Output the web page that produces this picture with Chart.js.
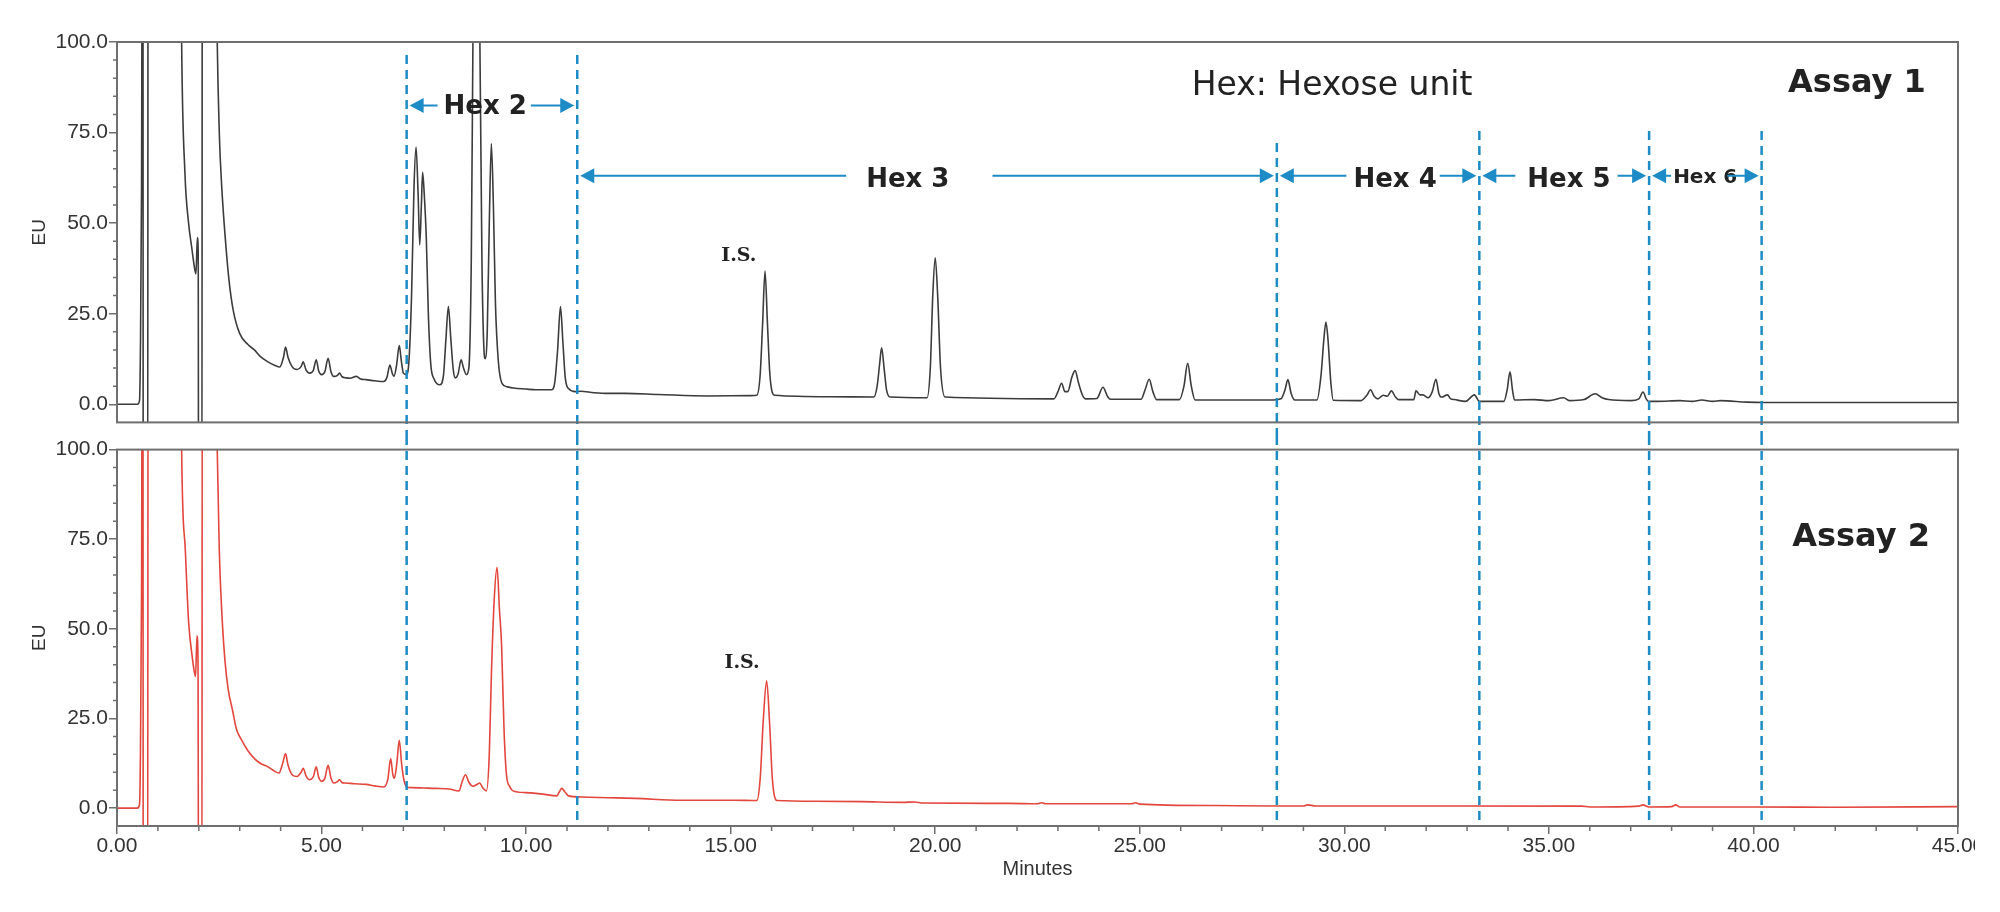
<!DOCTYPE html>
<html>
<head>
<meta charset="utf-8">
<script src="https://cdn.jsdelivr.net/npm/chart.js@4.4.1/dist/chart.umd.min.js"></script>
<style>
    html, body { margin: 0; padding: 0; background: #fff; }
    #wrap { position: relative; width: 1975px; height: 912px; overflow: hidden; background: #fff; }
    #assay1 { position: absolute; left: 0; top: 0; }
    #assay2 { position: absolute; left: 0; top: 436px; }
</style>
</head>
<body>
<div id="wrap">
    <canvas id="assay1" width="2000" height="436"></canvas>
    <canvas id="assay2" width="2000" height="476"></canvas>
</div>
<script>
// ================================
// DATA (minutes, EU)
// ================================
const assay1Trace = [
    [0, 0], [0.5, 0], [0.55, 1], [0.57, 12.6], [0.6, 60], [0.62, 150], [0.635, 150], [0.64, -40],
    [0.75, -40], [0.76, 150], [1.55, 150], [1.58, 100], [1.66, 64], [1.75, 50], [1.83, 43],
    [1.89, 38], [1.93, 36], [1.965, 46], [1.985, 42], [1.995, -40], [2.075, -40], [2.085, 150],
    [2.4, 150], [2.45, 100], [2.5, 75], [2.56, 60], [2.66, 44], [2.74, 34], [2.84, 26],
    [3.0, 19.5], [3.2, 16.5], [3.36, 15], [3.5, 13.2], [3.69, 11.7], [3.85, 10.8], [3.98, 10.3],
    [4.07, 13], [4.12, 15.8], [4.18, 13], [4.28, 10.4], [4.4, 9.6], [4.5, 10.4], [4.55, 11.7],
    [4.62, 9.5], [4.71, 8.6], [4.8, 9.4], [4.87, 12.3], [4.93, 9.2], [5.0, 8.2], [5.08, 9.0],
    [5.16, 12.7], [5.23, 9.0], [5.3, 7.7], [5.38, 7.9], [5.44, 8.6], [5.5, 7.6], [5.6, 7.3],
    [5.7, 7.2], [5.85, 7.7], [5.95, 7.0], [6.09, 6.8], [6.3, 6.5], [6.52, 6.3], [6.6, 7.5],
    [6.67, 10.8], [6.73, 8.5], [6.77, 7.7], [6.83, 10.5], [6.9, 16.2], [6.95, 12], [7.0, 8.6],
    [7.07, 8.2], [7.13, 11], [7.2, 30], [7.26, 60], [7.31, 71], [7.36, 58], [7.4, 44],
    [7.44, 55], [7.47, 64], [7.51, 58], [7.56, 46], [7.61, 25], [7.67, 11], [7.75, 7],
    [7.89, 5.4], [7.98, 8], [8.04, 18], [8.1, 27], [8.16, 18], [8.22, 9.5], [8.27, 7.3],
    [8.34, 8.5], [8.41, 12.3], [8.47, 10], [8.54, 8.2], [8.6, 10], [8.66, 40], [8.7, 100],
    [8.74, 150], [8.84, 150], [8.87, 100], [8.92, 40], [8.97, 15], [9.0, 12.6], [9.05, 20],
    [9.1, 50], [9.15, 72], [9.2, 55], [9.25, 28], [9.32, 12], [9.41, 5.8], [9.55, 4.8],
    [9.69, 4.5], [10.0, 4.2], [10.24, 4.0], [10.62, 4.0], [10.7, 6], [10.77, 15], [10.84, 27],
    [10.9, 17], [10.96, 7], [11.05, 4.2], [11.2, 3.5], [11.33, 3.6], [11.66, 3.2], [12.0, 3.0],
    [12.42, 3.0], [13.23, 2.7], [14.45, 2.3], [15.5, 2.4], [15.64, 2.5], [15.72, 8], [15.78, 22],
    [15.84, 36.8], [15.9, 22], [15.96, 8], [16.07, 2.5], [17.44, 2.1], [18.5, 2.0], [18.58, 5],
    [18.64, 11], [18.69, 15.6], [18.75, 10], [18.81, 4], [18.9, 2.0], [19.8, 1.8], [19.88, 10],
    [19.94, 30], [20.0, 40.4], [20.06, 30], [20.13, 10], [20.24, 2.0], [22.9, 1.5], [23.0, 3.5],
    [23.09, 5.8], [23.17, 3.5], [23.24, 3.5], [23.34, 7.5], [23.42, 9.3], [23.5, 6], [23.6, 2.5],
    [23.67, 1.5], [23.95, 1.6], [24.1, 4.7], [24.22, 2.0], [24.29, 1.4], [25.03, 1.4], [25.13, 4.0],
    [25.23, 6.9], [25.32, 3.5], [25.41, 1.3], [25.97, 1.3], [26.08, 5], [26.17, 11.3], [26.26, 5],
    [26.35, 1.2], [28.27, 1.2], [28.45, 1.5], [28.55, 4], [28.62, 6.8], [28.7, 3], [28.79, 1.2],
    [29.33, 1.2], [29.43, 8], [29.5, 18], [29.55, 22.7], [29.6, 18], [29.67, 6], [29.73, 1.1],
    [30.4, 1.0], [30.55, 2.5], [30.64, 4.0], [30.73, 2.2], [30.82, 1.5], [30.95, 2.5], [31.05, 2.2],
    [31.15, 3.7], [31.25, 2.0], [31.32, 1.3], [31.7, 1.3], [31.75, 3.7], [31.85, 2.6], [31.92, 2.6],
    [32.05, 1.8], [32.15, 3.5], [32.24, 6.9], [32.31, 3.0], [32.38, 2.0], [32.52, 2.6], [32.6, 1.5],
    [32.69, 1.3], [32.96, 0.8], [33.18, 2.6], [33.3, 0.8], [33.9, 0.8], [33.98, 4], [34.05, 9.0],
    [34.11, 4], [34.16, 1.2], [34.65, 1.3], [35.0, 1.0], [35.36, 1.8], [35.5, 1.0], [35.86, 1.3],
    [36.13, 2.9], [36.3, 1.8], [36.46, 1.3], [37.0, 1.0], [37.2, 1.5], [37.3, 3.4], [37.38, 1.5],
    [37.43, 0.8], [37.65, 0.8], [38.2, 1.0], [38.5, 0.8], [38.74, 1.2], [39.0, 0.8], [39.2, 1.0],
    [39.84, 0.6], [40.28, 0.5], [45.0, 0.5]
];

const assay2Trace = [
    [0, 0], [0.5, 0], [0.55, 1], [0.57, 12], [0.6, 60], [0.62, 150], [0.635, 150], [0.64, -40],
    [0.75, -40], [0.76, 150], [1.55, 150], [1.58, 100], [1.67, 72], [1.75, 52], [1.83, 43],
    [1.89, 38], [1.92, 36.7], [1.955, 48], [1.98, 42], [1.995, -40], [2.075, -40], [2.085, 150],
    [2.4, 150], [2.45, 100], [2.5, 72], [2.56, 55], [2.64, 41], [2.72, 33], [2.82, 27.5],
    [2.92, 22], [3.03, 19.3], [3.2, 16], [3.36, 13.8], [3.5, 12.5], [3.69, 11.5], [3.85, 10.3],
    [3.96, 9.8], [4.05, 12.5], [4.12, 15.2], [4.18, 12], [4.28, 9.3], [4.4, 8.8], [4.5, 10],
    [4.55, 11.1], [4.62, 9], [4.71, 7.9], [4.8, 8.8], [4.87, 11.5], [4.93, 8.6], [5.0, 7.5],
    [5.08, 8.3], [5.16, 11.9], [5.23, 8.4], [5.3, 7.0], [5.38, 7.3], [5.44, 7.9], [5.5, 7.1],
    [5.58, 7.0], [5.8, 6.8], [6.09, 6.6], [6.3, 6.2], [6.52, 5.9], [6.62, 8], [6.69, 13.8],
    [6.74, 9.5], [6.78, 8.3], [6.84, 12.5], [6.9, 18.9], [6.96, 12], [7.02, 7.5], [7.1, 5.8],
    [7.19, 5.7], [7.5, 5.6], [7.8, 5.5], [8.12, 5.3], [8.36, 4.8], [8.44, 7.5], [8.52, 9.3],
    [8.6, 7.2], [8.7, 6.1], [8.8, 6.6], [8.86, 7.0], [8.95, 5.5], [9.03, 4.8], [9.1, 15],
    [9.15, 36.7], [9.22, 58], [9.29, 67.2], [9.35, 55], [9.4, 45.7], [9.46, 22], [9.52, 9.3],
    [9.6, 6], [9.68, 4.8], [10.0, 4.3], [10.4, 3.9], [10.75, 3.4], [10.81, 4.5], [10.87, 5.5],
    [10.95, 4.5], [11.04, 3.4], [11.33, 3.1], [12.0, 2.9], [12.67, 2.7], [13.8, 2.2], [15.08, 2.2],
    [15.64, 2.1], [15.72, 8], [15.8, 25], [15.88, 35.5], [15.95, 24], [16.02, 8], [16.13, 2.1],
    [17.07, 1.9], [18.2, 1.8], [19.2, 1.6], [19.5, 1.7], [19.7, 1.4], [21.8, 1.3], [22.5, 1.2],
    [22.6, 1.5], [22.7, 1.2], [24.8, 1.2], [24.9, 1.5], [25.0, 1.1], [26.8, 0.7], [28.35, 0.6],
    [29.0, 0.6], [29.1, 0.9], [29.3, 0.6], [35.8, 0.55], [36.0, 0.3], [37.2, 0.55], [37.3, 0.9],
    [37.45, 0.3], [38.0, 0.4], [38.1, 0.9], [38.2, 0.3], [40.0, 0.3], [42.0, 0.25], [45.0, 0.4]
];

// axis ticks
const xTicks = [0, 5, 10, 15, 20, 25, 30, 35, 40, 45];
const yTicks = [0, 25, 50, 75, 100];

// hexose unit regions (minutes) and their labels
const hexLabels = ["Hex 2", "Hex 3", "Hex 4", "Hex 5", "Hex 6"];
const hexBounds = [7.08, 11.25, 28.35, 33.3, 37.45, 40.2];
const hexLabelAt = [9.0, 19.33, 31.24, 35.49, 38.82];

// internal standard peak label position (minutes)
const isMinute = 15.2;

// ================================
// STYLE
// ================================
const BLUE = "#1d8bc5";
const TEXT = "#222";
const AXIS = "#6f6f6f";
Chart.defaults.font.family = "'Liberation Sans', Arial, sans-serif";
Chart.defaults.color = "#333";

const toPoints = arr => arr.map(p => ({ x: p[0], y: p[1] }));

function yScale() {
    return {
        type: "linear",
        min: -5,
        max: 100,
        afterFit: s => { s.width = 117; },
        afterBuildTicks: s => { s.ticks = yTicks.map(v => ({ value: v })); },
        ticks: { callback: v => Number(v).toFixed(1), font: { size: 21 }, color: "#333", padding: 1 },
        grid: { drawOnChartArea: false, tickLength: 8, color: AXIS, lineWidth: 1.5 },
        border: { display: false },
        title: { display: true, text: "EU", font: { size: 19 }, color: "#333", padding: { top: 28, bottom: 0 } }
    };
}

// ================================
// PLUGINS
// ================================
const frame = {
    id: "frame",
    afterDatasetsDraw(chart) {
        const { ctx, chartArea: a } = chart;
        ctx.save();
        ctx.strokeStyle = AXIS;
        ctx.lineWidth = 2;
        ctx.strokeRect(a.left, a.top, a.right - a.left, a.bottom - a.top);
        ctx.restore();
    }
};

const minorTicks = {
    id: "minorTicks",
    afterDraw(chart) {
        const { ctx, chartArea: a } = chart;
        const x = chart.scales.x, y = chart.scales.y;
        ctx.save();
        ctx.strokeStyle = AXIS;
        ctx.lineWidth = 1.5;
        ctx.beginPath();
        for (let v = 5; v < 100; v += 5) {
            if (v % 25 === 0) continue;
            const py = y.getPixelForValue(v);
            ctx.moveTo(a.left - 4, py);
            ctx.lineTo(a.left, py);
        }
        if (x.options.display) {
            for (let m = 1; m < 45; m++) {
                if (m % 5 === 0) continue;
                const px = x.getPixelForValue(m);
                ctx.moveTo(px, a.bottom);
                ctx.lineTo(px, a.bottom + 5);
            }
        }
        ctx.stroke();
        ctx.restore();
    }
};

function dashedBounds(chart, fromY, toY) {
    const { ctx } = chart;
    ctx.save();
    ctx.strokeStyle = BLUE;
    ctx.lineWidth = 2.5;
    ctx.setLineDash([9, 6]);
    hexBounds.forEach((m, i) => {
        const px = chart.scales.x.getPixelForValue(m);
        ctx.beginPath();
        ctx.moveTo(px, fromY(i));
        ctx.lineTo(px, toY);
        ctx.stroke();
    });
    ctx.restore();
}

function arrowHead(ctx, tipX, y, dir) {
    ctx.beginPath();
    ctx.moveTo(tipX, y);
    ctx.lineTo(tipX - dir * 14, y - 7.5);
    ctx.lineTo(tipX - dir * 14, y + 7.5);
    ctx.closePath();
    ctx.fill();
}

const assay1Notes = {
    id: "assay1Notes",
    afterDatasetsDraw(chart) {
        const { ctx } = chart;
        const x = chart.scales.x, y = chart.scales.y;

        // start heights of the dashed boundaries in EU
        const startEU = [96.4, 96.4, 72.1, 75.4, 75.4, 75.4];
        dashedBounds(chart, i => y.getPixelForValue(startEU[i]), chart.height);

        // region arrows
        const gapL = [6, 20, 7, 12, 2];
        const gapR = [4, 43, 3, 7, -10];
        ctx.save();
        ctx.strokeStyle = BLUE;
        ctx.fillStyle = BLUE;
        ctx.lineWidth = 2;
        hexLabels.forEach((label, i) => {
            const small = i === 4;
            const arrowY = y.getPixelForValue(i === 0 ? 82.5 : 63.1);
            const baseY = y.getPixelForValue(i === 0 ? 80.05 : (small ? 61.2 : 60.1));
            ctx.font = "bold " + (small ? 20 : 26) + "px 'DejaVu Sans', Verdana, sans-serif";
            const w = ctx.measureText(label).width;
            const cx = x.getPixelForValue(hexLabelAt[i]);
            const left = x.getPixelForValue(hexBounds[i]) + 3;
            const right = x.getPixelForValue(hexBounds[i + 1]) - 3;

            ctx.fillStyle = TEXT;
            ctx.textAlign = "center";
            ctx.textBaseline = "alphabetic";
            ctx.fillText(label, cx, baseY);
            ctx.fillStyle = BLUE;

            ctx.beginPath();
            ctx.moveTo(left + 10, arrowY);
            ctx.lineTo(cx - w / 2 - gapL[i], arrowY);
            ctx.moveTo(cx + w / 2 + gapR[i], arrowY);
            ctx.lineTo(right - 10, arrowY);
            ctx.stroke();
            arrowHead(ctx, left, arrowY, -1);
            arrowHead(ctx, right, arrowY, 1);
        });

        // titles
        ctx.fillStyle = TEXT;
        ctx.textAlign = "center";
        ctx.font = "33px 'DejaVu Sans', Verdana, sans-serif";
        ctx.fillText("Hex: Hexose unit", x.getPixelForValue(29.7), y.getPixelForValue(85.5));
        ctx.font = "bold 32px 'DejaVu Sans', Verdana, sans-serif";
        ctx.fillText("Assay 1", x.getPixelForValue(42.53), y.getPixelForValue(86.3));
        ctx.font = "bold 19px 'DejaVu Serif', serif";
        ctx.fillText("I.S.", x.getPixelForValue(isMinute), y.getPixelForValue(39.6));
        ctx.restore();
    }
};

const assay2Notes = {
    id: "assay2Notes",
    afterDatasetsDraw(chart) {
        const { ctx } = chart;
        const x = chart.scales.x, y = chart.scales.y;
        dashedBounds(chart, () => 0, chart.chartArea.bottom);

        ctx.save();
        ctx.fillStyle = TEXT;
        ctx.textAlign = "center";
        ctx.textBaseline = "alphabetic";
        ctx.font = "bold 32px 'DejaVu Sans', Verdana, sans-serif";
        ctx.fillText("Assay 2", x.getPixelForValue(42.63), y.getPixelForValue(73.2));
        ctx.font = "bold 19px 'DejaVu Serif', serif";
        ctx.fillText("I.S.", x.getPixelForValue(isMinute + 0.08), y.getPixelForValue(39.2));
        ctx.restore();
    }
};

// ================================
// CHARTS
// ================================
const lineStyle = {
    pointRadius: 0,
    borderWidth: 1.6,
    cubicInterpolationMode: "monotone",
    fill: false
};

new Chart(document.getElementById("assay1"), {
    type: "line",
    data: {
        datasets: [Object.assign({ data: toPoints(assay1Trace), borderColor: "#3c3c3c" }, lineStyle)]
    },
    options: {
        responsive: false,
        animation: false,
        events: [],
        layout: { padding: { top: 42, right: 42, bottom: 10, left: 0 } },
        plugins: { legend: { display: false }, tooltip: { enabled: false } },
        scales: {
            x: { type: "linear", min: 0, max: 45, display: false },
            y: yScale()
        }
    },
    plugins: [minorTicks, assay1Notes, frame]
});

new Chart(document.getElementById("assay2"), {
    type: "line",
    data: {
        datasets: [Object.assign({ data: toPoints(assay2Trace), borderColor: "#e3463c" }, lineStyle)]
    },
    options: {
        responsive: false,
        animation: false,
        events: [],
        layout: { padding: { top: 6, right: 42, bottom: 0, left: 0 } },
        plugins: { legend: { display: false }, tooltip: { enabled: false } },
        scales: {
            x: {
                type: "linear",
                min: 0,
                max: 45,
                afterFit: s => { s.height = 86; },
                afterBuildTicks: s => { s.ticks = xTicks.map(v => ({ value: v })); },
                ticks: { callback: v => Number(v).toFixed(2), font: { size: 21 }, color: "#333", padding: 0, maxRotation: 0, autoSkip: false },
                grid: { drawOnChartArea: false, tickLength: 8, color: AXIS, lineWidth: 1.5 },
                border: { display: false },
                title: { display: true, text: "Minutes", font: { size: 20 }, color: "#333", padding: { top: 0, bottom: 31 } }
            },
            y: yScale()
        }
    },
    plugins: [minorTicks, assay2Notes, frame]
});
</script>
</body>
</html>
